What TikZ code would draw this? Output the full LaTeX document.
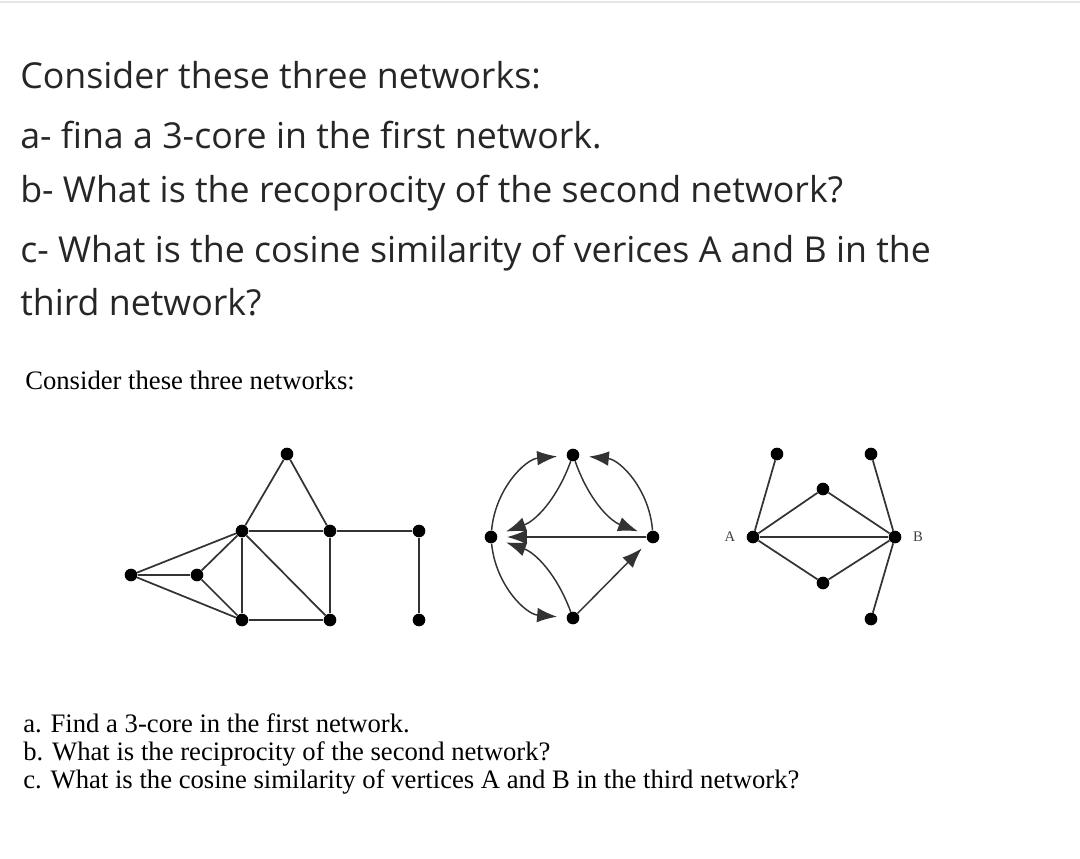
\documentclass[tikz,border=0pt]{standalone}
\usepackage{fontspec}
\setmainfont{Liberation Serif}
\newfontfamily\topfont{Open Sans}
\usetikzlibrary{arrows.meta}
\begin{document}
\begin{tikzpicture}[x=0.75pt,y=-0.75pt,
  dot/.style={circle,fill=black,inner sep=0pt,minimum size=9.5pt},
  edge/.style={draw=black!80,line width=1.3pt},
  arc/.style={draw=black!80,line width=1.1pt,-{Latex[length=15pt,width=11pt]},shorten >=7pt},
  qtext/.style={anchor=west,inner sep=0pt,font=\topfont\fontsize{26.8}{30}\selectfont,text=black!85},
  stext/.style={anchor=base west,inner sep=0pt,font=\fontsize{20}{24}\selectfont}]
\useasboundingbox (0,0) rectangle (1080,858);
\draw[black!10,line width=1pt] (0,2) -- (1080,2);
\node[qtext] (q0) at (20,75) {Consider these three networks:};
\node[qtext] (q1) at (20,135) {a- fina a 3-core in the first network.};
\node[qtext] (q2) at (20,193) {b- What is the recoprocity of the second network?};
\node[qtext] (q3) at (20,253) {c- What is the cosine similarity of verices A and B in the};
\node[qtext] (q4) at (20,302) {third network?};
\node[stext] (s0) at (25,389) {Consider these three networks:};
\node[stext] (s1) at (23,732) {a. Find a 3-core in the first network.};
\node[stext] (s2) at (23,760) {b. What is the reciprocity of the second network?};
\node[stext] (s3) at (23,788) {c. What is the cosine similarity of vertices A and B in the third network?};
% network 1
\node[dot] (t) at (287,454) {};
\node[dot] (l) at (242,531) {};
\node[dot] (r) at (330,531) {};
\node[dot] (fr) at (419,531) {};
\node[dot] (fl) at (131,575) {};
\node[dot] (m) at (197,575) {};
\node[dot] (bl) at (242,620) {};
\node[dot] (br) at (330,620) {};
\node[dot] (bf) at (419,620) {};
\foreach \a/\b in {t/l,t/r,l/r,r/fr,fr/bf,l/fl,l/m,l/bl,l/br,fl/m,fl/bl,m/bl,bl/br,r/br}
  \draw[edge] (\a) -- (\b);
% network 2
\node[dot] (nt) at (573,455) {};
\node[dot] (nl) at (491,537) {};
\node[dot] (nr) at (653,537) {};
\node[dot] (nb) at (573,618) {};
\draw[arc] (nl) to[bend left=40] (nt);
\draw[arc] (nt) to[bend left=25] (nl);
\draw[arc] (nt) to[bend right=25] (nr);
\draw[arc] (nr) to[bend right=40] (nt);
\draw[arc] (nr) -- (nl);
\draw[arc] (nl) to[bend right=40] (nb);
\draw[arc] (nb) to[bend right=25] (nl);
\draw[arc] (nb) -- (nr);
% network 3
\node[dot] (tl) at (777,454) {};
\node[dot] (tr) at (871,454) {};
\node[dot] (A) at (753,537) {};
\node[dot] (B) at (895,537) {};
\node[dot] (mt) at (823,489) {};
\node[dot] (mb) at (823,583) {};
\node[dot] (bt) at (871,619) {};
\node[font=\fontsize{11}{13}\selectfont,text=black!75] (la) at (730,537) {A};
\node[font=\fontsize{11}{13}\selectfont,text=black!75] (lb) at (918,537) {B};
\foreach \a/\b in {A/tl,A/mt,A/B,A/mb,B/tr,B/mt,B/mb,B/bt}
  \draw[edge] (\a) -- (\b);
\end{tikzpicture}
\end{document}
